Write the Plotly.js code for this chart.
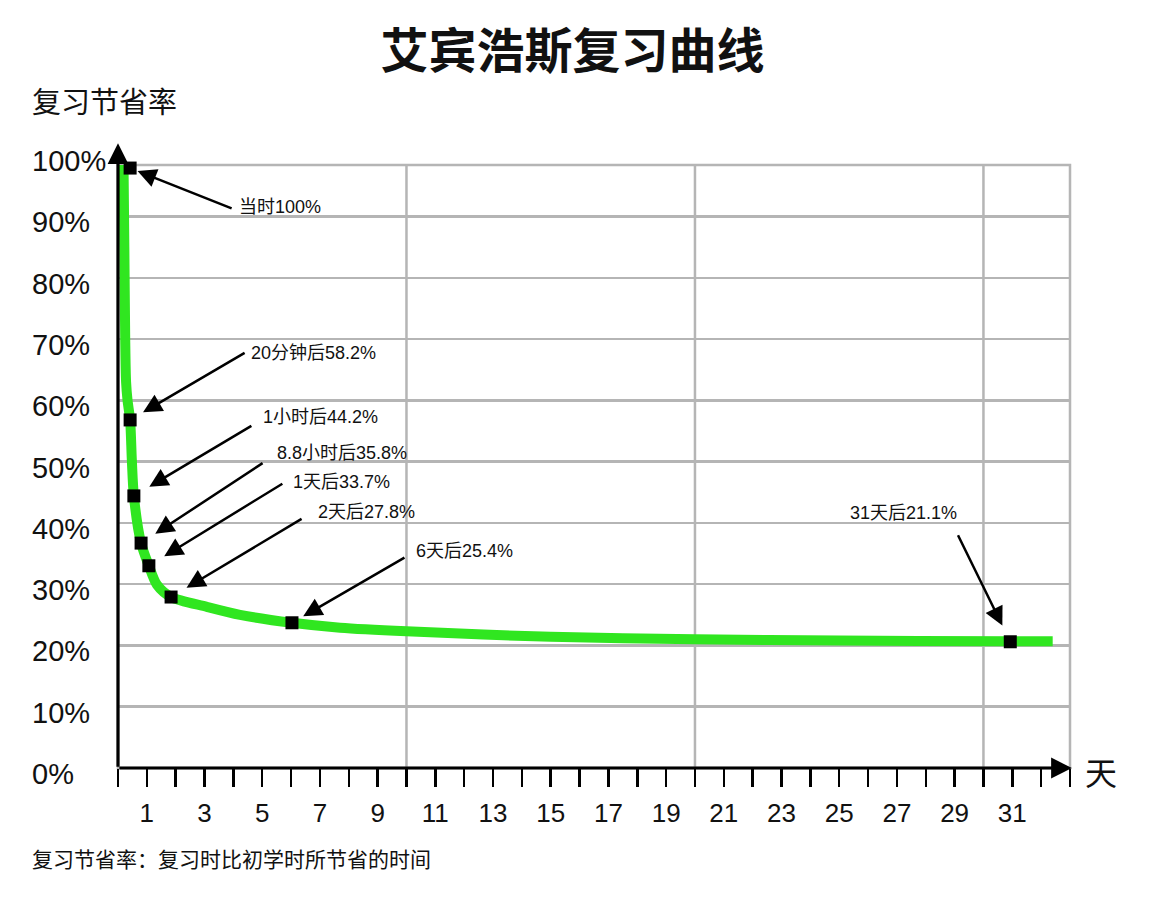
<!DOCTYPE html>
<html>
<head>
<meta charset="utf-8">
<script src="https://cdn.plot.ly/plotly-3.0.1.min.js"></script>
<style>
  html, body { margin: 0; padding: 0; background: #fff; }
  #chart { width: 1152px; height: 906px; }
</style>
</head>
<body>
<div id="chart"></div>
<script>
// curve (days after learning, saving rate in %)
var curveDays  = [0.19, 0.22, 0.25, 0.28, 0.33, 0.42, 0.48, 0.55, 0.8, 1.07, 1.35, 1.84, 3.08, 4.23, 6.03, 7.7, 10, 15, 20, 25, 30.9, 32.4];
var curveRates = [99.2, 85, 70, 63, 60, 56.8, 50.2, 44.4, 36.7, 33.0, 29.9, 27.9, 26.3, 25.0, 23.7, 22.9, 22.3, 21.4, 21.0, 20.8, 20.7, 20.7];

// the black square markers and their callout labels
var pointDays  = [0.42, 0.42, 0.55, 0.80, 1.07, 1.84, 6.03, 30.93];
var pointRates = [97.9, 56.8, 44.4, 36.7, 33.0, 27.9, 23.7, 20.6];
var pointLabels = ['当时100%', '20分钟后58.2%', '1小时后44.2%', '8.8小时后35.8%',
                   '1天后33.7%', '2天后27.8%', '6天后25.4%', '31天后21.1%'];

// tick labels
var xTickDays   = [1, 3, 5, 7, 9, 11, 13, 15, 17, 19, 21, 23, 25, 27, 29, 31];
var xTickLabels = ['1', '3', '5', '7', '9', '11', '13', '15', '17', '19', '21', '23', '25', '27', '29', '31'];
var yTickVals   = [0, 10, 20, 30, 40, 50, 60, 70, 80, 90, 100];
var yTickLabels = ['0%', '10%', '20%', '30%', '40%', '50%', '60%', '70%', '80%', '90%', '100%'];
var xGridDays   = [10, 20, 30];

// callout placement (pixels): arrow tail offset and text offset from each marker
var arrowTail = [[103, 41], [116, -68], [119, -71], [123, -81], [135, -83], [132, -79], [114, -66], [-53, -108]];
var textShift = [[107, -39], [119, 67], [127, 79], [134, 90], [142, 84], [145, 85], [122, 72], [-107, 129]];
var arrowGap  = [8, 15, 18, 17, 18, 18, 13, 18];

var FONT = 'Liberation Sans, Arial, "Noto Sans CJK SC", sans-serif';
var CJK = '"Noto Sans CJK SC", "Liberation Sans", sans-serif';
var GRID = '#b5b5b5';
var Y_TOP = 98.4;

var curve = {
  x: curveDays,
  y: curveRates,
  mode: 'lines',
  line: {color: '#30e620', width: 10, shape: 'spline', smoothing: 0.8},
  hoverinfo: 'skip'
};

var points = {
  x: pointDays,
  y: pointRates,
  mode: 'markers',
  marker: {symbol: 'square', size: 13, color: '#000'},
  cliponaxis: false,
  hoverinfo: 'skip'
};

var annotations = [];

// callout arrows and texts
pointLabels.forEach(function (label, i) {
  annotations.push({
    x: pointDays[i], y: pointRates[i], xref: 'x', yref: 'y',
    text: '', showarrow: true,
    ax: arrowTail[i][0], ay: arrowTail[i][1],
    arrowhead: 2, arrowsize: 1.5, arrowwidth: 2.5, arrowcolor: '#000',
    standoff: arrowGap[i]
  });
  annotations.push({
    x: pointDays[i], y: pointRates[i], xref: 'x', yref: 'y',
    text: label, showarrow: false,
    xanchor: i === 7 ? 'center' : 'left', yanchor: 'middle',
    xshift: textShift[i][0], yshift: textShift[i][1],
    font: {family: FONT, size: 18, color: '#111'}
  });
});

// y tick labels are left aligned in the picture (100% sits above the frame)
yTickVals.forEach(function (v, i) {
  annotations.push({
    x: 0, xref: 'paper', y: v / Y_TOP, yref: 'paper',
    text: yTickLabels[i], showarrow: false,
    xanchor: 'left', yanchor: 'middle', xshift: -88, yshift: -6,
    font: {family: FONT, size: 29, color: '#111'}
  });
});

// axes with arrow heads
annotations.push({
  x: 0, xref: 'x', y: 1.036, yref: 'paper', text: '', showarrow: true,
  ax: 0, ay: 625, arrowhead: 2, arrowsize: 1.3, arrowwidth: 3.2, arrowcolor: '#000'
});
annotations.push({
  x: 1.002, xref: 'paper', y: 0, yref: 'paper', text: '', showarrow: true,
  ax: -954, ay: 0, arrowhead: 2, arrowsize: 1.3, arrowwidth: 3.2, arrowcolor: '#000'
});

// axis captions and footnote
annotations.push({
  x: 0, xref: 'paper', xshift: -88, y: 1.108, yref: 'paper',
  xanchor: 'left', yanchor: 'middle', showarrow: false,
  text: '复习节省率', font: {family: CJK, size: 29, color: '#111'}
});
annotations.push({
  x: 1.0326, xref: 'paper', y: 0, yref: 'paper', yshift: -3,
  xanchor: 'center', yanchor: 'middle', showarrow: false,
  text: '天', font: {family: CJK, size: 32, color: '#111'}
});
annotations.push({
  x: 0, xref: 'paper', xshift: -88, y: -0.149, yref: 'paper',
  xanchor: 'left', yanchor: 'middle', showarrow: false,
  text: '复习节省率：复习时比初学时所节省的时间', font: {family: CJK, size: 21, color: '#111'}
});

// gray frame and vertical grid lines
var shapes = [{
  type: 'rect', xref: 'paper', yref: 'paper', x0: 0, x1: 1, y0: 0, y1: 1,
  line: {color: GRID, width: 2.5}, layer: 'below'
}];
xGridDays.forEach(function (d) {
  shapes.push({
    type: 'line', xref: 'x', yref: 'paper', x0: d, x1: d, y0: 0, y1: 1,
    line: {color: GRID, width: 2.5}, layer: 'below'
  });
});

var layout = {
  width: 1152,
  height: 906,
  margin: {l: 118, r: 82, t: 165, b: 138},
  paper_bgcolor: '#fff',
  plot_bgcolor: '#fff',
  showlegend: false,
  hovermode: false,
  title: {
    text: '艾宾浩斯复习曲线',
    x: 0.497, xanchor: 'center',
    y: 0.943, yanchor: 'middle',
    font: {family: CJK, size: 48, weight: 'bold', color: '#111'}
  },
  xaxis: {
    range: [0, 33],
    showgrid: false,
    zeroline: false,
    showline: false,
    tickmode: 'array',
    tickvals: xTickDays,
    ticktext: xTickLabels,
    ticks: 'outside',
    ticklen: 18,
    tickwidth: 2.5,
    tickcolor: '#000',
    ticklabelstandoff: 4,
    minor: {dtick: 1, tick0: 0, ticks: 'outside', ticklen: 18, tickwidth: 2.5, tickcolor: '#000', showgrid: false},
    tickfont: {family: FONT, size: 26, color: '#111'}
  },
  yaxis: {
    range: [0, Y_TOP],
    dtick: 10,
    showgrid: true,
    gridcolor: GRID,
    gridwidth: 2.5,
    zeroline: false,
    showline: false,
    showticklabels: false,
    ticks: ''
  },
  shapes: shapes,
  annotations: annotations
};

Plotly.newPlot('chart', [curve, points], layout, {displayModeBar: false, staticPlot: true});
</script>
</body>
</html>
